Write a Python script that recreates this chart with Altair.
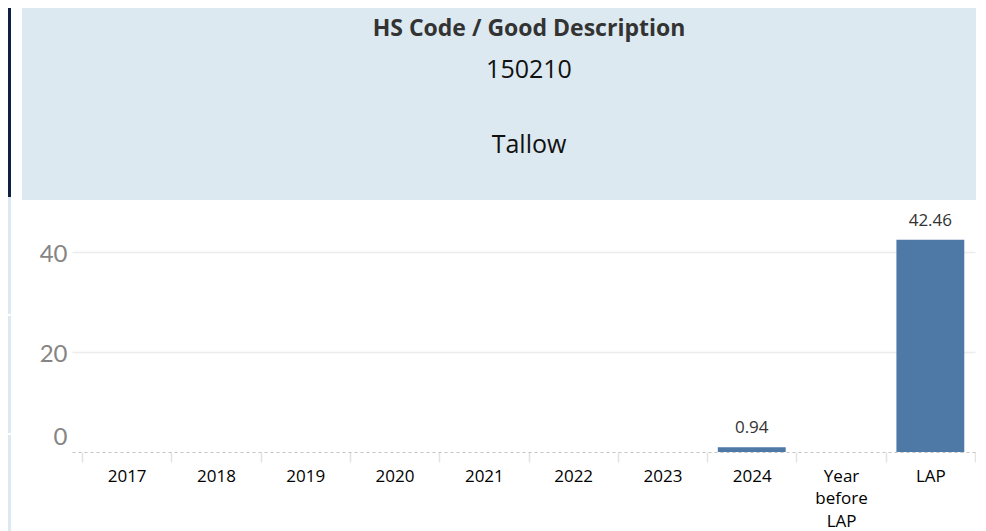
import altair as alt
import pandas as pd

# ---- data ----
categories = ["2017", "2018", "2019", "2020", "2021", "2022", "2023", "2024", "Year before LAP", "LAP"]
values = [None, None, None, None, None, None, None, 0.94, None, 42.46]
y_ticks = [0, 20, 40]
header_title = "HS Code / Good Description"
header_code = "150210"
header_desc = "Tallow"

df = pd.DataFrame({"period": categories, "value": values})
one = alt.Data(values=[{"k": 0}])

BAR = "#4e79a7"
PANEL = "#dce9f0"

x_enc = alt.X(
    "period:N", sort=categories, title=None,
    scale=alt.Scale(paddingInner=0, paddingOuter=0.056, align=1),
    axis=alt.Axis(
        labelAngle=0, labelFont="Open Sans", labelFontSize=17, labelColor="#000000",
        labelExpr="split(datum.label, ' ')", labelLineHeight=22.5, labelBaseline="top",
        labelPadding=6, tickBand="extent", ticks=True, tickSize=10, tickColor="#e3e3e3",
        tickWidth=1.5, domain=True, domainColor="#c4c4c4", domainDash=[3, 3],
        domainWidth=1, grid=False,
    ),
)
y_enc = alt.Y(
    "value:Q", title=None,
    scale=alt.Scale(domain=[0, 48], nice=False),
    axis=alt.Axis(
        values=y_ticks, domain=False, ticks=False, labelFont="Lato",
        labelFontSize=24, labelColor="#858585", labelPadding=5,
        gridColor="#ececec", gridWidth=1.5,
        gridOpacity={"condition": {"test": "datum.value == 0", "value": 0}, "value": 1},
        labelOffset={"condition": {"test": "datum.value == 0", "value": -15}, "value": 2},
    ),
)

bars = alt.Chart(df).mark_bar(color=BAR, width=alt.RelativeBandSize(0.76)).encode(x=x_enc, y=y_enc)
labels = alt.Chart(df).transform_filter("isValid(datum.value)").mark_text(
    baseline="middle", dy=-19, font="Open Sans", fontSize=17, color="#333333"
).encode(x=alt.X("period:N", sort=categories), y="value:Q", text=alt.Text("value:Q", format=".2f"))

# decorative dashboard panel behind the header
panel = alt.Chart(one).mark_rect(color=PANEL).encode(
    x=alt.value(-50), x2=alt.value(904), y=alt.value(-204), y2=alt.value(-12))
navy = alt.Chart(one).mark_rect(color="#0f2143").encode(
    x=alt.value(-64), x2=alt.value(-61), y=alt.value(-204), y2=alt.value(-15))
strip1 = alt.Chart(one).mark_rect(color=PANEL).encode(
    x=alt.value(-64), x2=alt.value(-61), y=alt.value(-15), y2=alt.value(102))
strip2 = alt.Chart(one).mark_rect(color=PANEL).encode(
    x=alt.value(-64), x2=alt.value(-61), y=alt.value(104), y2=alt.value(221))
strip3 = alt.Chart(one).mark_rect(color=PANEL).encode(
    x=alt.value(-64), x2=alt.value(-61), y=alt.value(223), y2=alt.value(340))

t1 = alt.Chart(one).mark_text(font="Open Sans", fontSize=23, fontWeight="bold", color="#333333",
                              baseline="middle", align="center").encode(
    x=alt.value(457), y=alt.value(-183), text=alt.value(header_title))
t2 = alt.Chart(one).mark_text(font="Open Sans", fontSize=25, color="#111111",
                              baseline="middle", align="center").encode(
    x=alt.value(457), y=alt.value(-142), text=alt.value(header_code))
t3 = alt.Chart(one).mark_text(font="Open Sans", fontSize=25, color="#111111",
                              baseline="middle", align="center").encode(
    x=alt.value(457), y=alt.value(-67), text=alt.value(header_desc))

chart = alt.layer(panel, navy, strip1, strip2, strip3, t1, t2, t3, bars, labels).properties(
    width=903, height=240,
    autosize=alt.AutoSizeParams(type="none"),
    padding={"left": 64, "top": 204, "right": 1, "bottom": 84},
    background="white",
).configure_view(stroke=None)

chart.save("out.html", embed_options={"renderer": "svg", "actions": False})
